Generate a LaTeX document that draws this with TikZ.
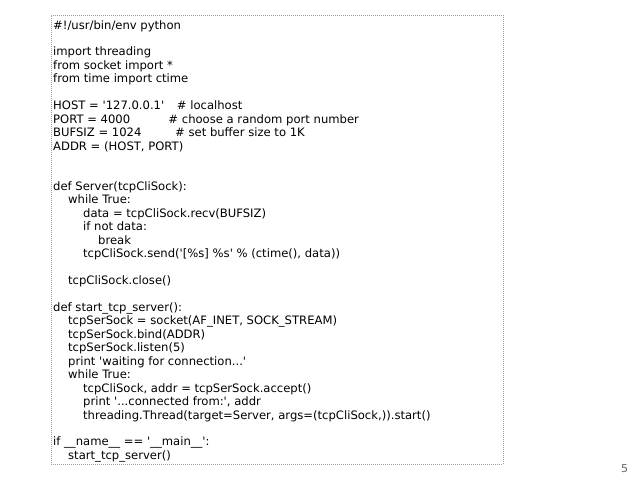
\documentclass[tikz,border=0pt]{standalone}
\usepackage{fontspec}
\newfontfamily\codefont{DejaVu Sans}
\newcommand{\cIa}{\hspace*{15pt}}
\newcommand{\cIb}{\hspace*{30pt}}
\newcommand{\cIc}{\hspace*{45pt}}
\begin{document}
\begin{tikzpicture}[x=1pt,y=-1pt]
\tikzset{
  frame/.style={draw=gray!75, dash pattern=on 1pt off 1pt, line width=0.8pt, inner sep=0pt, anchor=north west},
  codetext/.style={anchor=north west, inner sep=0pt, align=left, text=black, font={\codefont\fontsize{11.6}{13.45}\selectfont}},
  pagenum/.style={anchor=base, inner sep=0pt, text=black!60, font={\codefont\fontsize{11}{13}\selectfont}}
}
\useasboundingbox[fill=white] (0,0) rectangle (638,479);
\node[frame, minimum width=452pt, minimum height=449pt] (box) at (51,15) {};
\node[codetext] (code) at (53,20) {%
\#!/usr/bin/env python\\
~\\
import threading\\
from socket import *\\
from time import ctime\\
~\\
\makebox[123.7pt][l]{HOST = '127.0.0.1'}\# localhost\\
\makebox[115.3pt][l]{PORT = 4000}\# choose a random port number\\
\makebox[122pt][l]{BUFSIZ = 1024}\# set buffer size to 1K\\
ADDR = (HOST, PORT)\\
~\\
~\\
def Server(tcpCliSock):\\
\cIa while True:\\
\cIb data = tcpCliSock.recv(BUFSIZ)\\
\cIb if not data:\\
\cIc break\\
\cIb tcpCliSock.send('[\%s] \%s' \% (ctime(), data))\\
~\\
\cIa tcpCliSock.close()\\
~\\
def start\_tcp\_server():\\
\cIa tcpSerSock = socket(AF\_INET, SOCK\_STREAM)\\
\cIa tcpSerSock.bind(ADDR)\\
\cIa tcpSerSock.listen(5)\\
\cIa print 'waiting for connection...'\\
\cIa while True:\\
\cIb tcpCliSock, addr = tcpSerSock.accept()\\
\cIb print '...connected from:', addr\\
\cIb threading.Thread(target=Server, args=(tcpCliSock,)).start()\\
~\\
if \_\_name\_\_ == '\_\_main\_\_':\\
\cIa start\_tcp\_server()};
\node[pagenum] (page) at (624.5,472) {5};
\end{tikzpicture}
\end{document}
